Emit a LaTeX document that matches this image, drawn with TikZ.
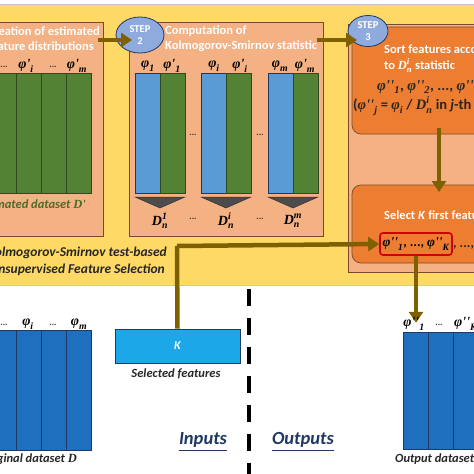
\documentclass[tikz,border=0pt]{standalone}
\usepackage{fontspec}
\setmainfont{Carlito}
\newfontfamily\phif{Liberation Serif}
\usepackage{amsmath}
\usetikzlibrary{arrows.meta,shapes.geometric}
\definecolor{ylw}{HTML}{FFD966}
\definecolor{salmon}{HTML}{F4B183}
\definecolor{orng}{HTML}{ED7D31}
\definecolor{pborder}{HTML}{7A4A2A}
\definecolor{grn}{HTML}{548235}
\definecolor{grnd}{HTML}{2F4A1E}
\definecolor{lblue}{HTML}{5B9BD5}
\definecolor{dblue}{HTML}{1F6FBF}
\definecolor{navy}{HTML}{1F3864}
\definecolor{kblue}{HTML}{1CA8E8}
\definecolor{olive}{HTML}{7F6000}
\definecolor{stepfill}{HTML}{8FAADC}
\definecolor{redb}{HTML}{D00000}
\definecolor{olivetxt}{HTML}{4D6B2A}
\newcommand{\gk}[1]{\text{\phif\bfseries\itshape #1}}
\newcommand{\fv}[2]{$\gk{φ#1}_{\gk{#2}}$}
\newcommand{\Dn}[1]{$\gk{D}^{\gk{#1}}_{\gk{n}}$}
\tikzset{
  panel/.style={fill=salmon, draw=pborder, line width=0.7pt},
  inbox/.style={fill=orng, draw=pborder, line width=0.7pt, rounded corners=9pt},
  gbar/.style={fill=grn, draw=grnd, line width=0.8pt},
  bbar/.style={fill=lblue, draw=navy, line width=0.8pt},
  dbar/.style={fill=dblue, draw=navy, line width=0.8pt},
  tri/.style={fill=black!70, draw=black!80, line width=0.5pt},
  title/.style={text=white, font=\fontsize{12.5}{14}\selectfont\bfseries, inner sep=0pt},
  hdr/.style={text=black, font=\fontsize{14}{16}\selectfont\bfseries, inner sep=0pt},
  dots/.style={text=black!80, font=\fontsize{9}{10}\selectfont\bfseries, inner sep=0pt},
  capt/.style={text=black!85, font=\fontsize{12.5}{14}\selectfont\bfseries\itshape, inner sep=0pt},
  stepnode/.style={ellipse, fill=stepfill, draw=navy, line width=0.8pt, text=white, align=center, inner sep=0pt, font=\fontsize{10.5}{11.5}\selectfont\bfseries},
  flow/.style={olive, line width=4.5pt, -{Triangle[length=11pt,width=14pt]}},
  flowline/.style={olive, line width=4.5pt},
  boxtxt/.style={anchor=west, inner sep=0pt, text=black!85, font=\fontsize{13}{15}\selectfont\bfseries},
}
\begin{document}
\begin{tikzpicture}[x=1pt,y=-1pt]
\useasboundingbox (0,0) rectangle (474,474);
\clip (0,0) rectangle (474,474);
\fill[white] (0,0) rectangle (474,474);
% yellow background
\draw[fill=ylw, draw=gray!45, line width=0.8pt] (-5,4) rectangle (480,285);
% panels
\draw[panel] (-20,22) rectangle (103,236);
\draw[panel] (129,22) rectangle (323,236);
\draw[panel] (348,24) rectangle (490,272);
\draw[inbox] (352,27) rectangle (500,134);
\draw[inbox] (352,185) rectangle (500,263);

% panel 1 content
\node[title, anchor=east] (t1a) at (100,31) {Creation of estimated};
\node[title, anchor=east] (t1b) at (94,46) {feature distributions};
\foreach \a/\b in {-9/16,16/41,41/66,66/91}{\draw[gbar] (\a,73) rectangle (\b,193);}
\node[dots] (h1a) at (4,67) {...};
\node[hdr] (h1b) at (26,66) {\fv{'}{i}};
\node[dots] (h1c) at (53,67) {...};
\node[hdr] (h1d) at (77,66) {\fv{'}{m}};
\node[capt, anchor=east, text=olivetxt] (est) at (86,204) {Estimated dataset \gk{D'}};

% panel 2 content
\node[title, anchor=west] (t2a) at (165,31) {Computation of};
\node[title, anchor=west] (t2b) at (165,46) {Kolmogorov-Smirnov statistic};
\foreach \x in {135,201,268}{
  \draw[bbar] (\x,73) rectangle (\x+25,193);
  \draw[gbar] (\x+25,73) rectangle (\x+50,193);
  \draw[tri] (\x,197) -- (\x+50,197) -- (\x+25,208) -- cycle;
}
\node[hdr] (p1) at (148,66) {\fv{}{1}};
\node[hdr] (q1) at (172,66) {\fv{'}{1}};
\node[hdr] (pi) at (214,66) {\fv{}{i}};
\node[hdr] (qi) at (240,66) {\fv{'}{i}};
\node[hdr] (pm) at (280,66) {\fv{}{m}};
\node[hdr] (qm) at (305,66) {\fv{'}{m}};
\node[dots] (d2a) at (193,135) {...};
\node[dots] (d2b) at (260,135) {...};
\node[hdr] (Dn1) at (160,221) {\Dn{1}};
\node[dots] (d2c) at (193,219) {...};
\node[hdr] (Dni) at (226,221) {\Dn{i}};
\node[dots] (d2d) at (260,219) {...};
\node[hdr] (Dnm) at (293,221) {\Dn{m}};

% panel 3 content
\node[title, anchor=west] (t3a) at (384,50) {Sort features according};
\node[title, anchor=west] (t3b) at (384,65) {to \Dn{i} statistic};
\node[boxtxt, font=\fontsize{15}{17}\selectfont\bfseries] (t3c) at (377,87) {\fv{''}{1}, \fv{''}{2}, ..., \fv{''}{m}};
\node[boxtxt, font=\fontsize{14.5}{16}\selectfont\bfseries] (t3d) at (353,106) {(\fv{''}{j} = \fv{}{i} / \Dn{i} in \textit{j}-th position)};
\node[title, anchor=west] (t4a) at (384,215) {Select \textit{K} first features};
\node[draw=redb, line width=1.6pt, rounded corners=3pt, minimum width=72pt, minimum height=22pt, inner sep=0pt, font=\fontsize{13.5}{15}\selectfont\bfseries] (sel) at (416,244) {\fv{''}{1}, ..., \fv{''}{K}};
\node[boxtxt, font=\fontsize{13.5}{15}\selectfont\bfseries] (rest) at (453,245) {, ..., \fv{''}{m}};

% steps
\node[stepnode, minimum width=48pt, minimum height=36pt] (s2) at (140,35) {STEP\\2};
\node[stepnode, minimum width=40pt, minimum height=31pt] (s3) at (368,31) {STEP\\3};
\coordinate (a1s) at (98,40);
\coordinate (a1e) at (132,40);
\coordinate (a2s) at (317,40);
\coordinate (a2e) at (357,40);
\draw[flow] (a1s) -- (a1e);
\draw[flow] (a2s) -- (a2e);
\coordinate (b1s) at (439,128);
\coordinate (b1e) at (439,192);
\draw[flow] (b1s) -- (b1e);

% title of method
\node[anchor=east, inner sep=0pt, text=black!85, font=\fontsize{13.5}{15}\selectfont\bfseries\itshape] (m1) at (167,253) {Kolmogorov-Smirnov test-based};
\node[anchor=east, inner sep=0pt, text=black!85, font=\fontsize{13.5}{15}\selectfont\bfseries\itshape] (m2) at (165,270) {Unsupervised Feature Selection};

% bottom: original dataset
\foreach \a/\b in {-9/16,16/41,41/66,66/91}{\draw[dbar] (\a,330) rectangle (\b,450);}
\node[dots] (h0a) at (4,325) {...};
\node[hdr] (h0b) at (28,324) {\fv{}{i}};
\node[dots] (h0c) at (53,325) {...};
\node[hdr] (h0d) at (79,324) {\fv{}{m}};
\node[capt, anchor=east] (orig) at (77,459) {Original dataset \gk{D}};

% K box
\node[fill=kblue, draw=navy, line width=0.8pt, minimum width=125pt, minimum height=34pt, inner sep=0pt, text=white, font=\fontsize{12}{14}\selectfont\bfseries\itshape] (K) at (177.5,346) {K};
\node[capt] (selc) at (176,374) {Selected features};
\coordinate (kc) at (177,246);
\draw[flowline] (K.north) -- (kc);
\draw[flow] (kc) -- (sel.west);
\draw[flow] (sel.south) -- ++(0,67);

% output dataset
\foreach \a/\b in {403/428,428/453,453/478}{\draw[dbar] (\a,332) rectangle (\b,449);}
\node[hdr] (o1) at (414,324) {\fv{''}{1}};
\node[dots] (o2) at (439,325) {...};
\node[hdr, anchor=west] (o3) at (454,324) {\fv{''}{K}};
\node[capt, anchor=west] (outd) at (395,459) {Output dataset \gk{D''}};

% dashed separator
\draw[black, line width=3.5pt, dash pattern=on 17pt off 12pt] (249,289) -- (249,480);
\node[text=navy, inner sep=0pt, font=\fontsize{18.5}{21}\selectfont\bfseries\itshape] (inp) at (203,442) {\underline{Inputs}};
\node[text=navy, inner sep=0pt, font=\fontsize{18.5}{21}\selectfont\bfseries\itshape] (outp) at (303,442) {\underline{Outputs}};
\end{tikzpicture}
\end{document}
